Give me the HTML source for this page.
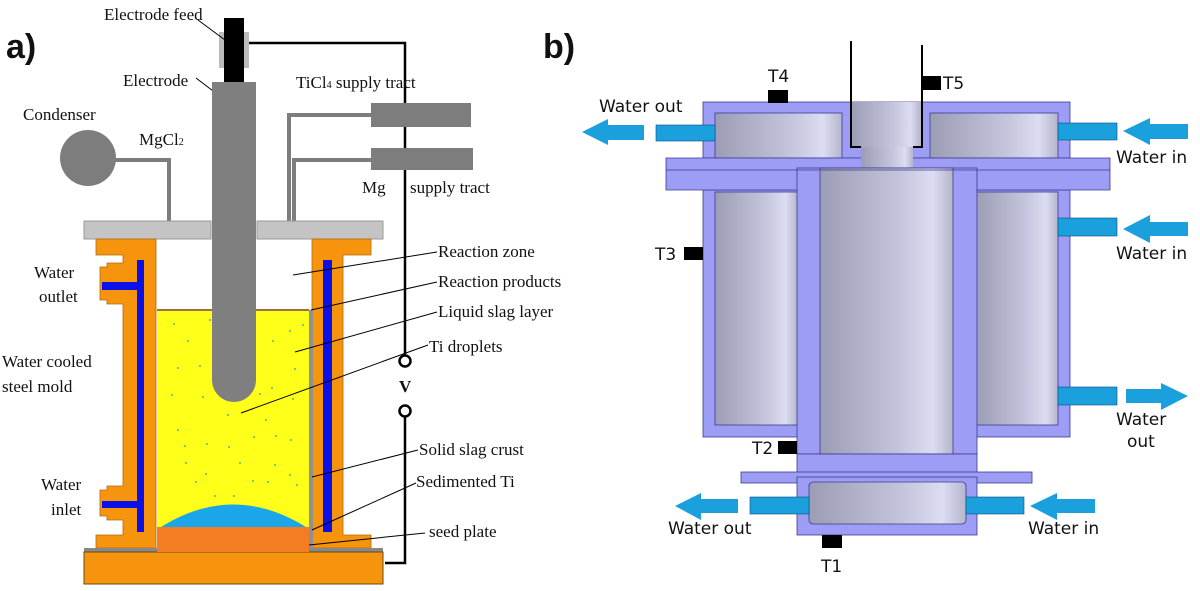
<!DOCTYPE html>
<html><head><meta charset="utf-8"><style>
html,body{margin:0;padding:0;background:#fff;width:1200px;height:591px;overflow:hidden}
svg{display:block}
.s{font-family:"Liberation Serif",serif;font-size:17px;fill:#111}
.a{font-family:"DejaVu Sans","Liberation Sans",sans-serif;font-size:17px;fill:#111}
</style></head><body>
<svg width="1200" height="591" viewBox="0 0 1200 591" xmlns="http://www.w3.org/2000/svg">
<defs>
<linearGradient id="g" x1="0" x2="1" y1="0" y2="0">
<stop offset="0" stop-color="#9c9cb4"/><stop offset="0.6" stop-color="#c4c4dc"/><stop offset="0.85" stop-color="#dcdcf2"/><stop offset="1" stop-color="#b4b4cc"/>
</linearGradient>
</defs>
<!-- ===== a) ===== -->
<text x="6" y="58" font-family="Liberation Sans,sans-serif" font-weight="bold" font-size="34" fill="#111">a)</text>
<!-- wire -->
<polyline points="244,43 405,43 405,355" fill="none" stroke="#000" stroke-width="2.5"/>
<polyline points="405,416 405,563 385,563" fill="none" stroke="#000" stroke-width="2.5"/>
<circle cx="405" cy="361" r="5.5" fill="#fff" stroke="#000" stroke-width="2.5"/>
<circle cx="405" cy="411" r="5.5" fill="#fff" stroke="#000" stroke-width="2.5"/>
<text x="399" y="392" font-family="Liberation Serif,serif" font-weight="bold" font-size="17" fill="#111">V</text>
<!-- feed -->
<rect x="219" y="32" width="30" height="36" fill="#bbb"/>
<rect x="224" y="18" width="20" height="64" fill="#000"/>
<text class="s" x="104" y="20">Electrode feed</text>
<line x1="198" y1="20" x2="225" y2="40" stroke="#000"/>
<text class="s" x="123" y="86">Electrode</text>
<line x1="196" y1="78" x2="221" y2="97" stroke="#000"/>
<!-- supply tracts -->
<text class="s" x="296" y="88">TiCl<tspan font-size="10">4</tspan> supply tract</text>
<polyline points="371,115 289,115 289,221" fill="none" stroke="#7d7d7d" stroke-width="4"/>
<polyline points="371,160 294,160 294,221" fill="none" stroke="#7d7d7d" stroke-width="4"/>
<rect x="371" y="103" width="100" height="24" fill="#7d7d7d"/>
<rect x="371" y="148" width="102" height="22" fill="#7d7d7d"/>
<text class="s" x="362" y="193">Mg</text>
<text class="s" x="410" y="193">supply tract</text>
<!-- condenser -->
<text class="s" x="23" y="120">Condenser</text>
<circle cx="88" cy="158" r="28" fill="#7d7d7d"/>
<polyline points="110,160 169,160 169,221" fill="none" stroke="#7d7d7d" stroke-width="4"/>
<text class="s" x="139" y="145">MgCl<tspan font-size="10">2</tspan></text>
<!-- plates -->
<rect x="84" y="221" width="127" height="18" fill="#c4c4c4" stroke="#999"/>
<rect x="257" y="221" width="126" height="18" fill="#c4c4c4" stroke="#999"/>
<!-- mold left -->
<path d="M96,239 H156 V535 H156 V548 H96 V535 H123 V520 H107 V516 H100 V490 H107 V486 H123 V304 H107 V300 H100 V267 H107 V263 H123 V255 H96 Z" fill="#f7940e" stroke="#b06a10" stroke-width="0.8"/>
<rect x="137" y="260" width="7" height="272" fill="#0a10e8"/>
<rect x="102" y="282" width="35" height="8" fill="#0a10e8"/>
<rect x="102" y="501" width="35" height="7" fill="#0a10e8"/>
<!-- mold right -->
<path d="M312,239 H371 V255 H343 V535 H371 V548 H312 Z" fill="#f7940e" stroke="#b06a10" stroke-width="0.8"/>
<rect x="323" y="260" width="9" height="272" fill="#0a10e8"/>
<rect x="84" y="548" width="299" height="4" fill="#888"/>
<rect x="84" y="552" width="299" height="32" fill="#f7940e" stroke="#6a4a10" stroke-width="1"/>
<!-- crucible -->
<rect x="157" y="310" width="152" height="217" fill="#ffff1a"/>
<line x1="157" y1="310" x2="309" y2="310" stroke="#a07040" stroke-width="2"/>
<rect x="309" y="310" width="4" height="238" fill="#909090"/>
<path d="M161,527 Q233,482 306,527 Z" fill="#1aa6e8"/>
<rect x="157" y="527" width="152" height="25" fill="#f47c22"/>
<g fill="#1aa0c8">
<circle cx="174" cy="324" r="0.9"/><circle cx="188" cy="341" r="0.9"/><circle cx="210" cy="320" r="0.9"/><circle cx="200" cy="366" r="0.9"/><circle cx="178" cy="368" r="0.9"/><circle cx="172" cy="395" r="0.9"/><circle cx="203" cy="397" r="0.9"/><circle cx="228" cy="415" r="0.9"/><circle cx="178" cy="430" r="0.9"/><circle cx="185" cy="446" r="0.9"/><circle cx="207" cy="444" r="0.9"/><circle cx="229" cy="447" r="0.9"/><circle cx="186" cy="463" r="0.9"/><circle cx="206" cy="474" r="0.9"/><circle cx="196" cy="482" r="0.9"/><circle cx="215" cy="496" r="0.9"/><circle cx="234" cy="496" r="0.9"/><circle cx="253" cy="481" r="0.9"/><circle cx="268" cy="482" r="0.9"/><circle cx="290" cy="475" r="0.9"/><circle cx="297" cy="485" r="0.9"/><circle cx="276" cy="436" r="0.9"/><circle cx="291" cy="440" r="0.9"/><circle cx="254" cy="437" r="0.9"/><circle cx="266" cy="420" r="0.9"/><circle cx="293" cy="399" r="0.9"/><circle cx="272" cy="388" r="0.9"/><circle cx="295" cy="369" r="0.9"/><circle cx="273" cy="341" r="0.9"/><circle cx="303" cy="325" r="0.9"/><circle cx="240" cy="463" r="0.9"/><circle cx="275" cy="465" r="0.9"/><circle cx="260" cy="394" r="0.9"/><circle cx="290" cy="331" r="0.9"/>
</g>
<!-- electrode -->
<path d="M212,82 H256 V380 A22,22 0 0 1 212,380 Z" fill="#7f7f7f"/>
<!-- right labels & leaders -->
<g stroke="#000" stroke-width="1">
<line x1="437" y1="252" x2="293" y2="275"/>
<line x1="437" y1="282" x2="311" y2="310"/>
<line x1="437" y1="312" x2="295" y2="352"/>
<line x1="428" y1="345" x2="241" y2="413"/>
<line x1="418" y1="450" x2="312" y2="477"/>
<line x1="416" y1="483" x2="312" y2="530"/>
<line x1="425" y1="533" x2="309" y2="545"/>
</g>
<text class="s" x="438" y="257">Reaction zone</text>
<text class="s" x="438" y="287">Reaction products</text>
<text class="s" x="438" y="317">Liquid slag layer</text>
<text class="s" x="429" y="352">Ti droplets</text>
<text class="s" x="419" y="455">Solid slag crust</text>
<text class="s" x="416" y="487">Sedimented Ti</text>
<text class="s" x="429" y="537">seed plate</text>
<text class="s" x="34" y="278">Water</text>
<text class="s" x="39" y="302">outlet</text>
<text class="s" x="2" y="367">Water cooled</text>
<text class="s" x="2" y="392">steel mold</text>
<text class="s" x="41" y="490">Water</text>
<text class="s" x="51" y="515">inlet</text>

<!-- ===== b) ===== -->
<text x="543" y="58" font-family="Liberation Sans,sans-serif" font-weight="bold" font-size="34" fill="#111">b)</text>
<g stroke="#3a3a90" stroke-width="0.8">
<!-- top chamber -->
<rect x="703" y="102" width="367" height="56" fill="#9d9df6"/>
<rect x="715" y="113" width="127" height="45" fill="url(#g)"/>
<rect x="930" y="113" width="128" height="45" fill="url(#g)"/>
<!-- lower body -->
<rect x="703" y="190" width="367" height="247" fill="#9d9df6"/>
<rect x="715" y="192" width="83" height="233" fill="url(#g)"/>
<rect x="976" y="192" width="82" height="233" fill="url(#g)"/>
<!-- flange -->
<path d="M666,158 H1110 V190 H666 Z" fill="#9d9df6"/>
<!-- neck -->
<rect x="851" y="102" width="70" height="45" fill="url(#g)" stroke="none"/>
<rect x="861" y="147" width="52" height="21" fill="url(#g)" stroke="none"/>
<!-- column -->
<rect x="797" y="168" width="180" height="286" fill="#9d9df6"/>
<rect x="820" y="168" width="133" height="286" fill="url(#g)"/>
<rect x="797" y="454" width="180" height="23" fill="#9d9df6"/>
<!-- bottom -->
<rect x="741" y="472" width="291" height="11" fill="#9d9df6"/>
<rect x="797" y="477" width="180" height="58" fill="#9d9df6"/>
<rect x="809" y="482" width="157" height="42" rx="4" fill="url(#g)"/>
</g>
<line x1="666" y1="170" x2="1110" y2="170" stroke="#3a3a90" stroke-width="0.8"/>
<!-- lines -->
<polyline points="851,41 851,147 861,147" fill="none" stroke="#000" stroke-width="2"/>
<polyline points="922,45 922,147 913,147" fill="none" stroke="#000" stroke-width="2"/>
<!-- sensors -->
<g fill="#000">
<rect x="768" y="90" width="20" height="13"/>
<rect x="922" y="76" width="19" height="14"/>
<rect x="684" y="247" width="19" height="13"/>
<rect x="778" y="441" width="19" height="13"/>
<rect x="822" y="535" width="20" height="13"/>
</g>
<text class="a" x="768" y="82">T4</text>
<text class="a" x="943" y="89">T5</text>
<text class="a" x="655" y="260">T3</text>
<text class="a" x="752" y="454">T2</text>
<text class="a" x="821" y="572">T1</text>
<!-- pipes & arrows -->
<g fill="#1aa0dc" stroke="#0a4a80" stroke-width="0.6">
<rect x="656" y="125" width="59" height="16"/>
<rect x="1058" y="123" width="59" height="17"/>
<rect x="1058" y="218" width="59" height="18"/>
<rect x="1058" y="387" width="59" height="18"/>
<rect x="750" y="497" width="59" height="17"/>
<rect x="966" y="497" width="58" height="17"/>
</g>
<g fill="#1aa0dc">
<polygon points="582,132 608,119 608,125 644,125 644,140 608,140 608,145"/>
<polygon points="1123,131 1150,118 1150,124 1188,124 1188,139 1150,139 1150,145"/>
<polygon points="1123,229 1150,215 1150,222 1188,222 1188,236 1150,236 1150,243"/>
<polygon points="1188,396 1161,383 1161,389 1126,389 1126,403 1161,403 1161,410"/>
<polygon points="675,506 701,493 701,499 738,499 738,513 701,513 701,520"/>
<polygon points="1030,506 1057,493 1057,499 1095,499 1095,513 1057,513 1057,520"/>
</g>
<text class="a" x="599" y="112">Water out</text>
<text class="a" x="1116" y="163">Water in</text>
<text class="a" x="1116" y="259">Water in</text>
<text class="a" x="1116" y="425">Water</text>
<text class="a" x="1127" y="447">out</text>
<text class="a" x="668" y="534">Water out</text>
<text class="a" x="1028" y="534">Water in</text>
</svg>
</body></html>
